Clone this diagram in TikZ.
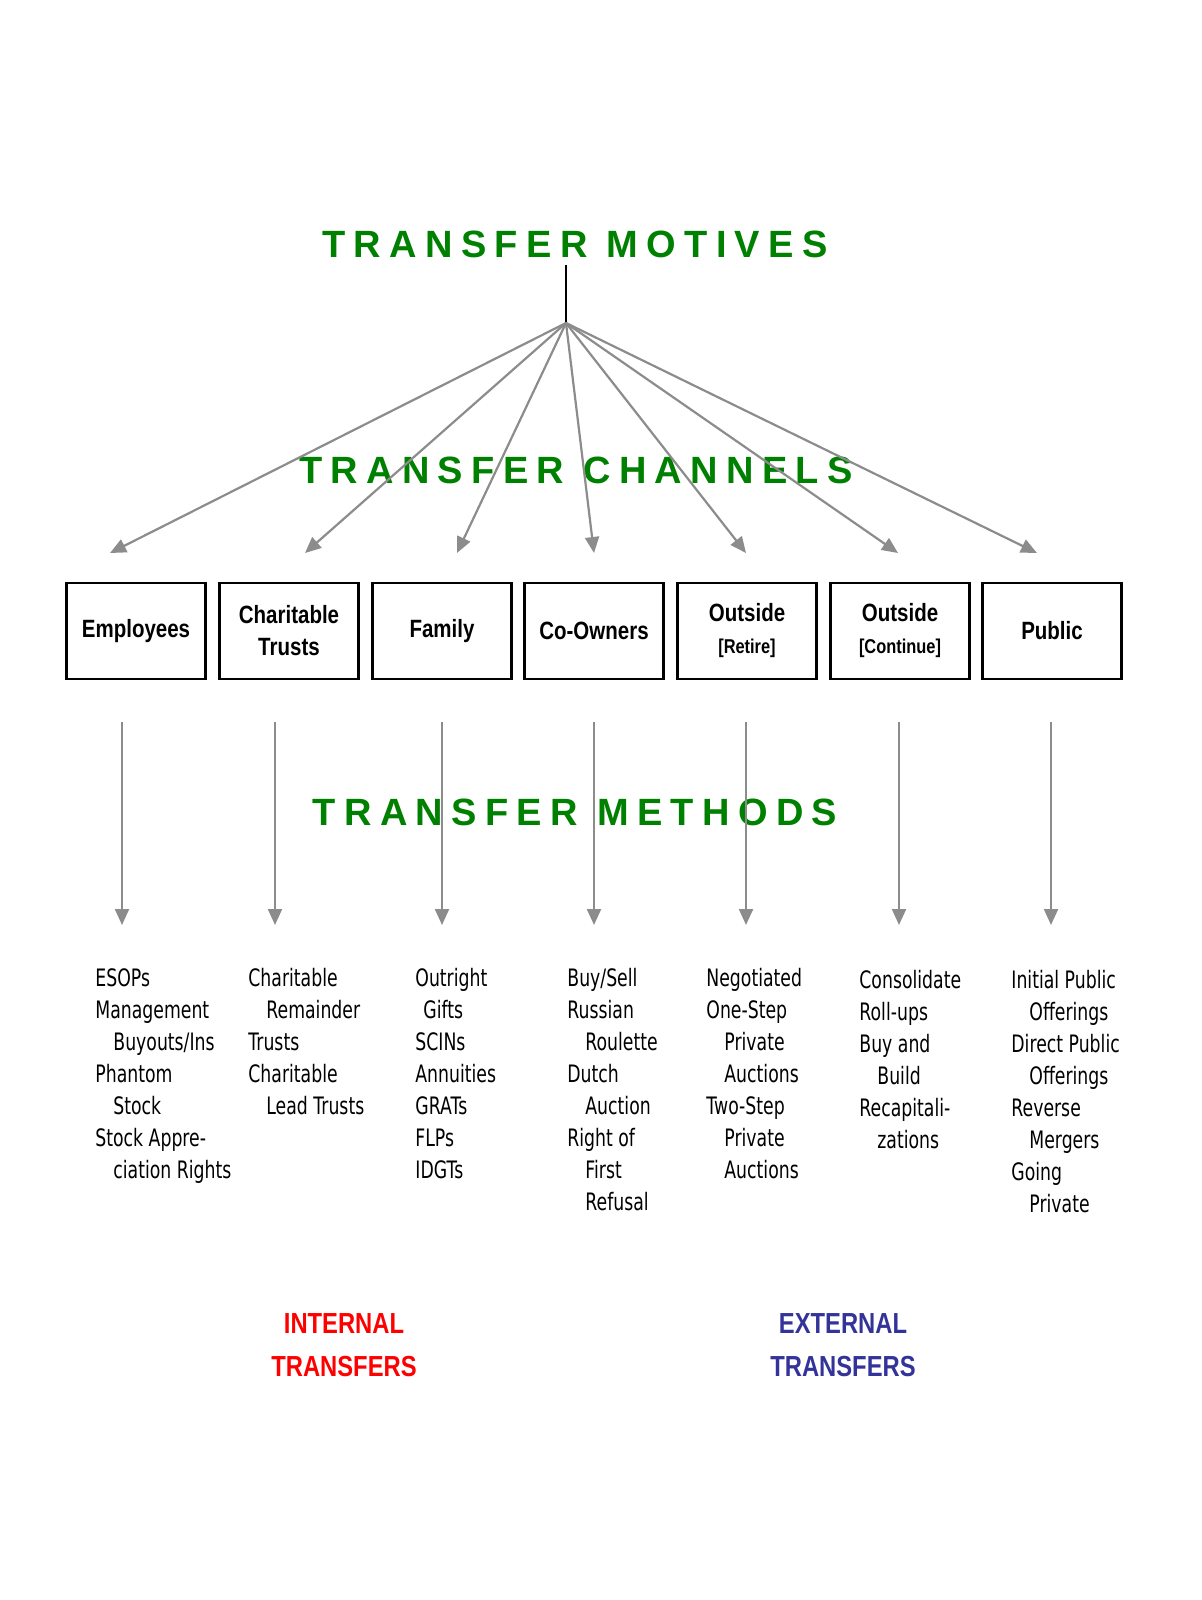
\documentclass[tikz,border=0pt]{standalone}
\usepackage{fontspec}
\setmainfont{Liberation Sans}
\newfontfamily\headfont[LetterSpace=22]{Liberation Sans}
\newfontfamily\boxfont[FakeStretch=0.82]{Liberation Sans}
\newfontfamily\methfont[FakeStretch=0.72]{DejaVu Sans}
\usetikzlibrary{arrows.meta}
\definecolor{hgreen}{RGB}{0,128,0}
\definecolor{gline}{RGB}{140,140,140}
\definecolor{xblue}{RGB}{51,51,153}
\tikzset{
  head/.style={font=\headfont\bfseries\fontsize{19}{24}\selectfont, text=hgreen, inner sep=0},
  chbox/.style={draw, line width=1.2pt, minimum width=69.5pt, minimum height=48pt, align=center, inner sep=1pt, font=\boxfont\bfseries\fontsize{12.5}{16}\selectfont},
  garrow/.style={draw=gline, line width=1.1pt, -{Triangle[length=8pt,width=7pt]}},
  meth/.style={anchor=north west, align=left, inner sep=0, font=\methfont\fontsize{12}{16}\selectfont},
  foot/.style={font=\bfseries\boxfont\fontsize{14.5}{21.5}\selectfont, align=center}
}
\newcommand{\ii}{\hspace*{9pt}}
\begin{document}
\begin{tikzpicture}[x=0.5pt,y=-0.5pt]
\useasboundingbox (0,0) rectangle (1201,1600);
\node[head] (mot) at (575,244) {TRANSFER MOTIVES};
\coordinate (top) at (566,265);
\coordinate (hub) at (566,323);
\draw[line width=1.1pt] (top) -- (hub);
\node[head] (chan) at (576,470) {TRANSFER CHANNELS};
\node[head] (meth) at (575,812) {TRANSFER METHODS};
\foreach \n/\x/\t in {b1/136/Employees, b2/289/{Charitable\\Trusts}, b3/442/Family, b4/594/Co-Owners,
  b5/747/{Outside\\{\fontsize{10}{12}\selectfont[Retire]}}, b6/900/{Outside\\{\fontsize{10}{12}\selectfont[Continue]}}, b7/1052/Public}
  \node[chbox] (\n) at (\x,631) {\t};
\foreach \n/\x in {a1/110,a2/305,a3/457,a4/594,a5/746,a6/898,a7/1037}{
  \coordinate (\n) at (\x,553);
  \draw[garrow] (hub) -- (\n);}
\foreach \i/\x in {1/122,2/275,3/442,4/594,5/746,6/899,7/1051}{
  \coordinate (s\i) at (\x,722); \coordinate (e\i) at (\x,925);
  \draw[garrow] (s\i) -- (e\i);}
\node[meth] (m1) at (95,968) {ESOPs\\Management\\\ii Buyouts/Ins\\Phantom\\\ii Stock\\Stock Appre-\\\ii ciation Rights};
\node[meth] (m2) at (248,968) {Charitable\\\ii Remainder\\Trusts\\Charitable\\\ii Lead Trusts};
\node[meth] (m3) at (415,968) {Outright\\\hspace*{4pt}Gifts\\SCINs\\Annuities\\GRATs\\FLPs\\IDGTs};
\node[meth] (m4) at (567,968) {Buy/Sell\\Russian\\\ii Roulette\\Dutch\\\ii Auction\\Right of\\\ii First\\\ii Refusal};
\node[meth] (m5) at (706,968) {Negotiated\\One-Step\\\ii Private\\\ii Auctions\\Two-Step\\\ii Private\\\ii Auctions};
\node[meth] (m6) at (859,970) {Consolidate\\Roll-ups\\Buy and\\\ii Build\\Recapitali-\\\ii zations};
\node[meth] (m7) at (1011,970) {Initial Public\\\ii Offerings\\Direct Public\\\ii Offerings\\Reverse\\\ii Mergers\\Going\\\ii Private};
\node[foot, text=red] (int) at (344,1345) {INTERNAL\\TRANSFERS};
\node[foot, text=xblue] (ext) at (843,1345) {EXTERNAL\\TRANSFERS};
\end{tikzpicture}
\end{document}
